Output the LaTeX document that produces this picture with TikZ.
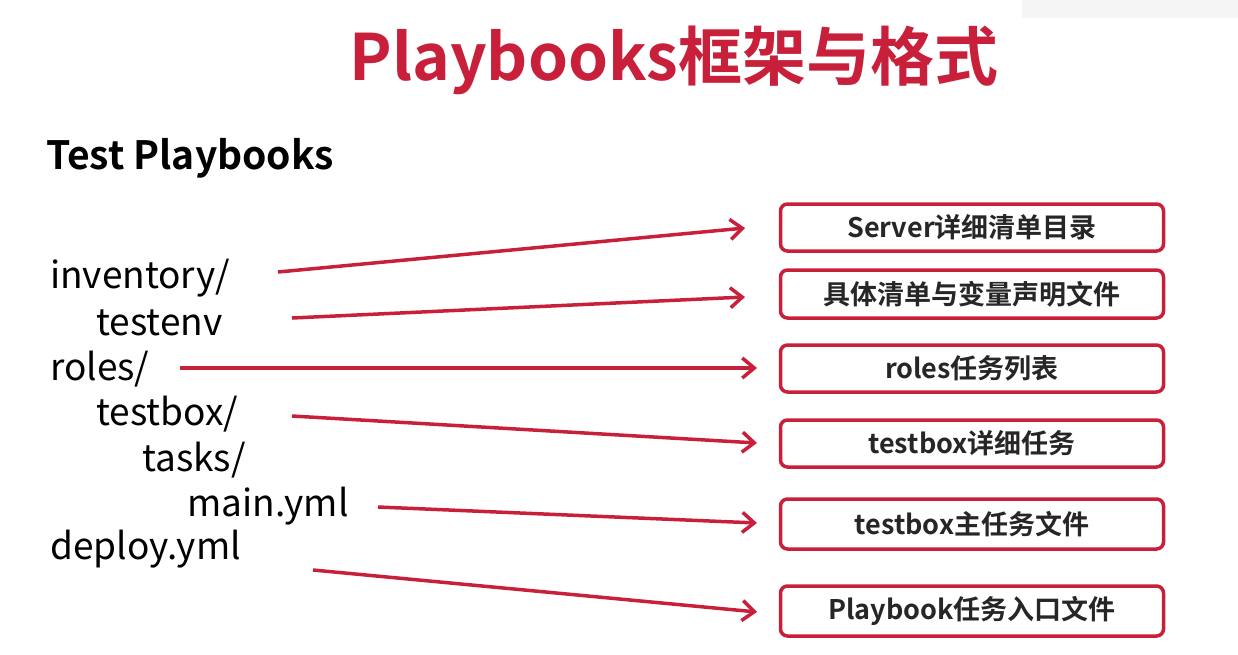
\documentclass[tikz,border=0pt]{standalone}
\usepackage{fontspec}
\setmainfont{Noto Sans CJK SC}
\newfontfamily\cjkb{Noto Sans CJK SC Bold}
\usetikzlibrary{arrows.meta}
\definecolor{myred}{HTML}{C8203A}
\begin{document}
\begin{tikzpicture}[x=1pt,y=-1pt,
  lbl/.style={anchor=west,inner sep=0pt,font=\fontsize{37}{37}\selectfont},
  tbox/.style={draw=myred,line width=3.5pt,rounded corners=7pt,fill=white,inner sep=0pt,font=\cjkb\fontsize{27}{27}\selectfont,text=black!85},
  arr/.style={draw=myred,line width=3.5pt,-{Straight Barb[length=12pt,width=20pt,line width=3.5pt]}}]
\useasboundingbox (0,0) rectangle (1238,654);
\fill[black!4] (1022,0) rectangle (1238,18);
\node[font=\cjkb\fontsize{64}{64}\selectfont,text=myred] (title) at (674,60) {Playbooks框架与格式};
\node[anchor=west,inner sep=0pt,font=\cjkb\fontsize{39}{39}\selectfont] (tp) at (46,158) {Test Playbooks};
\node[lbl] (l1) at (50,278) {inventory/};
\node[lbl] (l2) at (96,323) {testenv};
\node[lbl] (l3) at (50,369) {roles/};
\node[lbl] (l4) at (96,414) {testbox/};
\node[lbl] (l5) at (142,460) {tasks/};
\node[lbl] (l6) at (187,506) {main.yml};
\node[lbl] (l7) at (50,549) {deploy.yml};
\foreach \n/\y/\h/\t in {b1/227.5/47/Server详细清单目录, b2/294/48/具体清单与变量声明文件, b3/368.5/47/roles任务列表, b4/443.5/47/testbox详细任务, b5/524/50/testbox主任务文件, b6/611/50/Playbook任务入口文件}
  \node[tbox,minimum width=383pt,minimum height=\h pt] (\n) at (972,\y) {\t};
\foreach \i/\a/\b/\c/\d in {1/278/272/745/228, 2/292/318/745/297, 3/180/368/757/368, 4/292/416/757/443, 5/378/507/757/523, 6/313/570/757/612}{
  \coordinate (s\i) at (\a,\b); \coordinate (e\i) at (\c,\d);
  \draw[arr] (s\i) -- (e\i);}
\end{tikzpicture}
\end{document}
